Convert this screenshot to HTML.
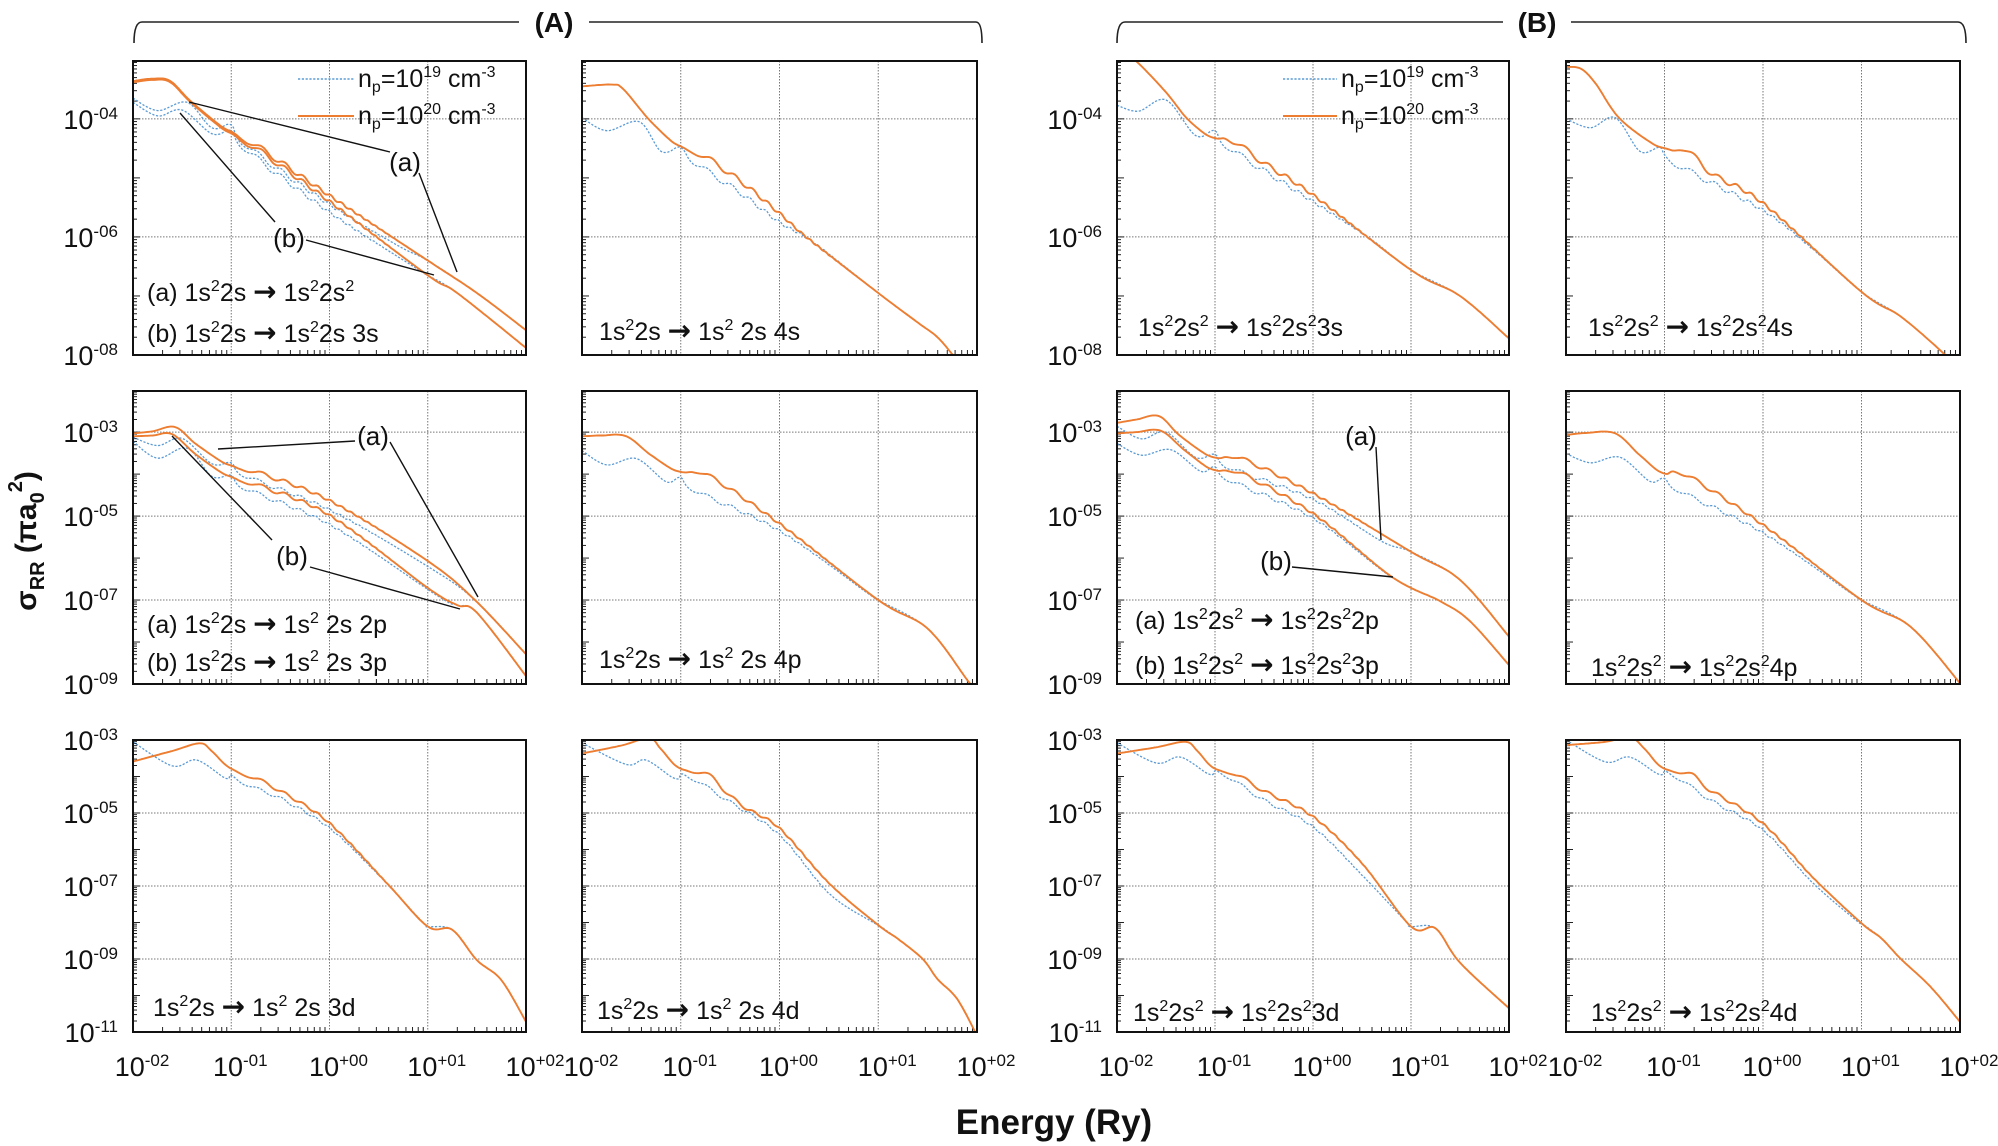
<!DOCTYPE html>
<html><head><meta charset="utf-8">
<style>
html,body{margin:0;padding:0;background:#fff;}
svg{display:block;font-family:"Liberation Sans",sans-serif;}
</style></head>
<body>
<svg id="s" width="1998" height="1146" viewBox="0 0 1998 1146" xmlns="http://www.w3.org/2000/svg">
<rect width="1998" height="1146" fill="#fff"/>
<path d="M134,43 Q134,22 142,22 L519,22 M589,22 L976,22 Q982,22 982,43" fill="none" stroke="#222" stroke-width="1.6"/>
<text x="554" y="32" font-size="28" font-weight="bold" text-anchor="middle" fill="#111">(A)</text>
<path d="M1117,43 Q1117,22 1125,22 L1503,22 M1571,22 L1958,22 Q1966,22 1966,43" fill="none" stroke="#222" stroke-width="1.6"/>
<text x="1537" y="32" font-size="28" font-weight="bold" text-anchor="middle" fill="#111">(B)</text>
<text x="1054" y="1134" font-size="35" font-weight="bold" text-anchor="middle" fill="#111">Energy (Ry)</text>
<text transform="translate(36,541) rotate(-90)" font-size="30" font-weight="bold" text-anchor="middle" fill="#111">σ<tspan dy="8" font-size="20">RR</tspan><tspan dy="-8"> (πa</tspan><tspan dy="8" font-size="20">0</tspan><tspan dy="-22" font-size="20">2</tspan><tspan dy="14">)</tspan></text>
<g id="g"></g>
</svg>
<script>
const G=document.getElementById('g');
let html='';
const cols=[[133,526],[582,977],[1117,1509],[1566,1960]];
const rows=[{T:61,B:355,mn:-8,mx:-3.02,labs:[-4,-6,-8],grid:[-4,-6]},
            {T:391,B:684,mn:-9,mx:-2.02,labs:[-3,-5,-7,-9],grid:[-3,-5,-7]},
            {T:740,B:1032,mn:-11,mx:-3,labs:[-3,-5,-7,-9,-11],grid:[-5,-7,-9]}];
function sup(s,base){
  let out='';let re=/(\^\{[^}]*\}|_\{[^}]*\}|→)/g;let parts=s.split(re);
  const fs=Math.round(base*0.62);const d=Math.round(base*0.38);
  parts.forEach(p=>{ if(!p)return;
    if(p=='→'){out+=`<tspan font-family="DejaVu Sans" font-weight="bold" font-size="${Math.round(base*1.1)}">→</tspan>`;}
    else if(p[0]=='^'){out+=`<tspan dy="-${d}" font-size="${fs}">${p.slice(2,-1)}</tspan><tspan dy="${d}">\u200B</tspan>`;}
    else if(p[0]=='_'){out+=`<tspan dy="${Math.round(d*0.6)}" font-size="${fs}">${p.slice(2,-1)}</tspan><tspan dy="-${Math.round(d*0.6)}">\u200B</tspan>`;}
    else out+=`<tspan>${p}</tspan>`;});
  return out;}
function txt(x,y,s,fs,anchor,extra){html+=`<text x="${x}" y="${y}" font-size="${fs}" fill="#111" ${anchor?`text-anchor="${anchor}"`:''} ${extra||''}>${sup(s,fs)}</text>`;}
function cr(pts){
  let out=[];
  for(let i=0;i<pts.length-1;i++){
    const p0=pts[Math.max(0,i-1)],p1=pts[i],p2=pts[i+1],p3=pts[Math.min(pts.length-1,i+2)];
    const n=Math.max(4,Math.ceil((p2[0]-p1[0])*60));
    for(let k=0;k<n;k++){const t=k/n,t2=t*t,t3=t2*t;
      const f=(a,b,c,d)=>0.5*((2*b)+(-a+c)*t+(2*a-5*b+4*c-d)*t2+(-a+3*b-3*c+d)*t3);
      out.push([f(p0[0],p1[0],p2[0],p3[0]),f(p0[1],p1[1],p2[1],p3[1])]);}
  }
  out.push(pts[pts.length-1]);return out;}
function wig(x,ph,amp){ if(x<-1.1||x>0.7)return 0;
  const env=Math.min(1,(0.7-x)/1.3)*Math.min(1,(x+1.1)/0.15);
  return amp*env*Math.sin(2*Math.PI*Math.sqrt(Math.pow(10,x))/0.14+ph);}
let clipId=0;
function panel(ci,ri,curves){
  const [L,R]=cols[ci];const r=rows[ri];const T=r.T,B=r.B;
  const X=lx=>L+(lx+2)/4*(R-L);const Y=ly=>T+(r.mx-ly)/(r.mx-r.mn)*(B-T);
  clipId++;
  html+=`<clipPath id="c${clipId}"><rect x="${L}" y="${T}" width="${R-L}" height="${B-T}"/></clipPath>`;
  for(let d=-1;d<=1;d++){const x=X(d);html+=`<line x1="${x}" y1="${T}" x2="${x}" y2="${B}" stroke="#777" stroke-width="1" stroke-dasharray="1.5,1.5"/>`;}
  r.grid.forEach(g=>{const y=Y(g);html+=`<line x1="${L}" y1="${y}" x2="${R}" y2="${y}" stroke="#777" stroke-width="1" stroke-dasharray="1.5,1.5"/>`;});
  for(let d=-2;d<2;d++)for(let k=2;k<=9;k++){const x=X(d+Math.log10(k));html+=`<line x1="${x}" y1="${B}" x2="${x}" y2="${B-5}" stroke="#222" stroke-width="1"/>`;}
  for(let d=r.mn;d<Math.ceil(r.mx);d++)for(let k=1;k<=9;k++){const v=d+Math.log10(k);if(v>r.mx)continue;const y=Y(v);html+=`<line x1="${L}" y1="${y}" x2="${L+(k==1?7:4)}" y2="${y}" stroke="#222" stroke-width="1"/>`;}
  curves.forEach(c=>{
    let pts=c.p.slice();
    if(c.follow){const last=pts[pts.length-1][0];c.follow.forEach(q=>{if(q[0]>last+0.01)pts.push(q);});}
    let s=cr(pts);
    let d='';s.forEach((q,i)=>{const ly=q[1]+wig(q[0],c.ph||0,c.amp==null?0.05:c.amp);d+=(i?'L':'M')+X(q[0]).toFixed(1)+','+Y(ly).toFixed(1);});
    if(c.blue) html+=`<path d="${d}" fill="none" stroke="#5B9BD5" stroke-width="1.3" stroke-dasharray="2.2,1.6" clip-path="url(#c${clipId})"/>`;
    else html+=`<path d="${d}" fill="none" stroke="#ED7D31" stroke-width="1.9" clip-path="url(#c${clipId})"/>`;
  });
  html+=`<rect x="${L}" y="${T}" width="${R-L}" height="${B-T}" fill="none" stroke="#111" stroke-width="2"/>`;
  if(ci==0||ci==2){r.labs.forEach(v=>{const y=Y(v);const s='10^{-'+String(-v).padStart(2,'0')+'}';txt(L-15,y+10,s,27,'end');});}
  if(ri==2){[-2,-1,0,1,2].forEach(v=>{const s='10^{'+(v<0?'-':'+')+String(Math.abs(v)).padStart(2,'0')+'}';txt(X(v)+9,1076,s,27,'middle');});}
}
let oa=[[-2,-3.36],[-1.8,-3.32],[-1.62,-3.36],[-1.4,-3.72],[-1,-4.25],[-0.75,-4.45],[0,-5.3],[1,-6.4],[1.5,-6.95],[2,-7.58]];
let ob=[[-2,-3.38],[-1.8,-3.34],[-1.62,-3.38],[-1.4,-3.74],[-1,-4.28],[-0.75,-4.5],[0,-5.4],[1,-6.65],[1.3,-6.95],[2,-7.88]];
panel(0,0,[
 {blue:1,p:[[-2,-3.65],[-1.75,-3.86],[-1.45,-3.72],[-1.2,-4.15],[-1,-4.12],[-0.85,-4.45],[0,-5.45],[0.7,-6.15]],follow:oa,ph:1},
 {blue:1,p:[[-2,-3.72],[-1.75,-3.95],[-1.5,-3.85],[-1.2,-4.25],[-1,-4.22],[-0.85,-4.52],[0,-5.58],[0.9,-6.55]],follow:ob,ph:1},
 {p:oa},{p:ob}]);
let o2=[[-2,-3.45],[-1.7,-3.42],[-1.58,-3.5],[-1.3,-4.05],[-1,-4.5],[-0.8,-4.6],[-0.4,-5.05],[0,-5.6],[0.27,-6.0],[1,-6.95],[1.4,-7.45],[1.6,-7.7],[1.78,-8.05],[2,-8.5]];
panel(1,0,[{blue:1,p:[[-2,-3.98],[-1.75,-4.2],[-1.42,-4.05],[-1.2,-4.55],[-1,-4.5],[-0.85,-4.75],[-0.4,-5.25],[0,-5.75],[0.35,-6.1]],follow:o2,ph:1},{p:o2}]);
let o3=[[-2,-2.8],[-1.8,-3.03],[-1.5,-3.55],[-1.27,-4.02],[-1,-4.36],[-0.85,-4.34],[-0.5,-4.75],[0,-5.29],[1,-6.56],[1.5,-7.0],[2,-7.72]];
panel(2,0,[{blue:1,p:[[-2,-3.77],[-1.78,-3.87],[-1.5,-3.68],[-1.2,-4.28],[-1,-4.22],[-0.85,-4.5],[0,-5.4],[0.6,-6.05]],follow:o3,ph:1},{p:o3}]);
let o4=[[-2,-3.12],[-1.85,-3.15],[-1.7,-3.4],[-1.44,-4.02],[-1,-4.53],[-0.8,-4.5],[-0.5,-4.95],[0,-5.43],[1,-6.93],[1.4,-7.35],[1.85,-8.0],[2,-8.3]];
panel(3,0,[{blue:1,p:[[-2,-4.0],[-1.75,-4.15],[-1.5,-3.98],[-1.25,-4.55],[-1.05,-4.5],[-0.9,-4.75],[0,-5.55],[0.5,-6.2]],follow:o4,ph:1},{p:o4}]);
let ra=[[-2,-3.03],[-1.8,-2.98],[-1.57,-2.88],[-1.35,-3.3],[-1,-3.83],[-0.75,-3.95],[0,-4.63],[1,-6.07],[1.48,-7.0],[2,-8.29]];
let rb=[[-2,-3.1],[-1.8,-3.08],[-1.6,-3.05],[-1.35,-3.55],[-1,-4.1],[-0.75,-4.25],[0,-4.98],[1,-6.71],[1.3,-7.12],[1.5,-7.3],[2,-8.81]];
panel(0,1,[
 {blue:1,p:[[-2,-3.12],[-1.75,-3.32],[-1.5,-3.15],[-1.2,-3.75],[-1,-3.75],[-0.85,-4.05],[0,-4.85],[1,-6.2]],follow:ra,ph:1},
 {blue:1,p:[[-2,-3.22],[-1.75,-3.62],[-1.45,-3.38],[-1.2,-4.05],[-1,-4.05],[-0.85,-4.35],[0,-5.2],[1.1,-6.9]],follow:rb,ph:1},
 {p:ra},{p:rb}]);
let r2=[[-2,-3.1],[-1.8,-3.08],[-1.55,-3.1],[-1.3,-3.55],[-1,-3.98],[-0.75,-4.0],[0,-5.18],[1,-7.0],[1.5,-7.68],[1.9,-8.9],[2,-9.2]];
panel(1,1,[{blue:1,p:[[-2,-3.44],[-1.75,-3.78],[-1.45,-3.63],[-1.15,-4.18],[-1,-4.1],[-0.85,-4.4],[0,-5.35],[0.9,-6.85]],follow:r2,ph:1},{p:r2}]);
let sa=[[-2,-2.78],[-1.8,-2.7],[-1.57,-2.62],[-1.35,-3.1],[-1,-3.64],[-0.77,-3.6],[0,-4.46],[1,-5.85],[1.5,-6.52],[2,-7.87]];
let sb=[[-2,-3.03],[-1.8,-3.0],[-1.55,-2.97],[-1.3,-3.45],[-1,-3.94],[-0.77,-3.95],[0,-4.94],[0.8,-6.44],[1.3,-7.03],[1.6,-7.5],[2,-8.55]];
panel(2,1,[
 {blue:1,p:[[-2,-2.86],[-1.75,-3.16],[-1.5,-3.0],[-1.2,-3.6],[-1,-3.55],[-0.85,-3.85],[0,-4.6],[0.7,-5.6]],follow:sa,ph:1},
 {blue:1,p:[[-2,-3.27],[-1.75,-3.55],[-1.45,-3.42],[-1.15,-3.93],[-1,-3.85],[-0.85,-4.15],[0,-5.05],[0.8,-6.45]],follow:sb,ph:1},
 {p:sa},{p:sb}]);
let s2=[[-2,-3.07],[-1.8,-3.02],[-1.5,-3.03],[-1.25,-3.55],[-1,-4.02],[-0.8,-4.0],[0,-5.21],[1,-7.0],[1.5,-7.64],[2,-8.98]];
panel(3,1,[{blue:1,p:[[-2,-3.51],[-1.75,-3.73],[-1.45,-3.6],[-1.15,-4.17],[-1,-4.12],[-0.85,-4.4],[0,-5.4],[0.9,-6.85]],follow:s2,ph:1},{p:s2}]);
let t1=[[-2,-3.59],[-1.6,-3.3],[-1.32,-3.09],[-1.2,-3.3],[-1,-3.82],[-0.8,-4.0],[-0.5,-4.4],[0,-5.28],[0.6,-6.97],[1,-8.11],[1.25,-8.2],[1.5,-9.03],[1.75,-9.58],[2,-10.72]];
panel(0,2,[{blue:1,p:[[-2,-3.05],[-1.6,-3.71],[-1.35,-3.55],[-1.05,-4.07],[-1,-3.98],[-0.8,-4.28],[-0.5,-4.6],[0,-5.41],[0.5,-6.7],[0.95,-8.0]],follow:t1,ph:1},{p:t1}]);
let t2=[[-2,-3.37],[-1.6,-3.15],[-1.32,-2.95],[-1.2,-3.25],[-1,-3.82],[-0.75,-3.9],[-0.55,-4.4],[-0.35,-4.85],[0,-5.42],[0.5,-6.92],[1,-8.07],[1.2,-8.45],[1.45,-9.0],[1.6,-9.55],[1.8,-10.1],[2,-11.1]];
panel(1,2,[{blue:1,p:[[-2,-3.08],[-1.55,-3.67],[-1.35,-3.55],[-1.05,-4.08],[-0.95,-3.96],[-0.5,-4.7],[0,-5.6],[0.5,-7.2],[0.95,-8.0]],follow:t2,ph:1},{p:t2}]);
let t3=[[-2,-3.37],[-1.6,-3.2],[-1.3,-3.05],[-1.18,-3.3],[-1,-3.82],[-0.8,-3.92],[-0.5,-4.4],[0,-5.1],[0.5,-6.38],[1,-8.11],[1.25,-8.16],[1.5,-9.1],[2,-10.35]];
panel(2,2,[{blue:1,p:[[-2,-3.08],[-1.6,-3.63],[-1.35,-3.47],[-1.05,-3.96],[-0.95,-3.88],[-0.5,-4.65],[0,-5.38],[0.5,-6.7],[0.95,-7.98]],follow:t3,ph:1},{p:t3}]);
let t4=[[-2,-3.14],[-1.6,-3.05],[-1.35,-2.92],[-1.2,-3.25],[-1,-3.82],[-0.75,-3.9],[-0.55,-4.35],[0,-5.29],[0.5,-6.75],[1,-8.02],[1.2,-8.43],[1.4,-9.0],[1.7,-9.76],[2,-10.72]];
panel(3,2,[{blue:1,p:[[-2,-3.0],[-1.6,-3.6],[-1.35,-3.47],[-1.05,-3.96],[-0.95,-3.9],[-0.5,-4.7],[0,-5.47],[0.5,-6.9],[0.95,-7.95]],follow:t4,ph:1},{p:t4}]);
function ln(a,b,c,d){html+=`<line x1="${a}" y1="${b}" x2="${c}" y2="${d}" stroke="#111" stroke-width="1.4"/>`;}
ln(189,102,390,152);ln(419,173,457,272);ln(180,113,275,222);ln(306,240,434,275);
txt(405,171,'(a)',26,'middle');txt(289,247,'(b)',26,'middle');
ln(218,449,355,441);ln(390,442,478,597);ln(172,436,272,540);ln(310,567,460,609);
txt(373,445,'(a)',26,'middle');txt(292,565,'(b)',26,'middle');
ln(1376,447,1381,540);ln(1292,567,1393,577);
txt(1361,445,'(a)',26,'middle');txt(1276,570,'(b)',26,'middle');
function legend(x0,x1){
 html+=`<line x1="${x0}" y1="79" x2="${x1}" y2="79" stroke="#5B9BD5" stroke-width="1.4" stroke-dasharray="2.2,1.6"/>`;
 html+=`<line x1="${x0}" y1="116" x2="${x1}" y2="116" stroke="#ED7D31" stroke-width="2"/>`;
 html+=`<text x="${x1+4}" y="87" font-size="25" fill="#111">n<tspan dy="5" font-size="16">p</tspan><tspan dy="-5">=10</tspan><tspan dy="-10" font-size="16">19</tspan><tspan dy="10"> cm</tspan><tspan dy="-10" font-size="16">-3</tspan></text>`;
 html+=`<text x="${x1+4}" y="124" font-size="25" fill="#111">n<tspan dy="5" font-size="16">p</tspan><tspan dy="-5">=10</tspan><tspan dy="-10" font-size="16">20</tspan><tspan dy="10"> cm</tspan><tspan dy="-10" font-size="16">-3</tspan></text>`;}
legend(298,354);legend(1283,1337);
const A='→';const F=25;
txt(147,301,'(a) 1s^{2}2s '+A+' 1s^{2}2s^{2}',F);
txt(147,342,'(b) 1s^{2}2s '+A+' 1s^{2}2s 3s',F);
txt(599,340,'1s^{2}2s '+A+' 1s^{2} 2s 4s',F);
txt(1138,336,'1s^{2}2s^{2} '+A+' 1s^{2}2s^{2}3s',F);
txt(1588,336,'1s^{2}2s^{2} '+A+' 1s^{2}2s^{2}4s',F);
txt(147,633,'(a) 1s^{2}2s '+A+' 1s^{2} 2s 2p',F);
txt(147,671,'(b) 1s^{2}2s '+A+' 1s^{2} 2s 3p',F);
txt(599,668,'1s^{2}2s '+A+' 1s^{2} 2s 4p',F);
txt(1135,629,'(a) 1s^{2}2s^{2} '+A+' 1s^{2}2s^{2}2p',F);
txt(1135,674,'(b) 1s^{2}2s^{2} '+A+' 1s^{2}2s^{2}3p',F);
txt(1591,676,'1s^{2}2s^{2} '+A+' 1s^{2}2s^{2}4p',F);
txt(153,1016,'1s^{2}2s '+A+' 1s^{2} 2s 3d',F);
txt(597,1019,'1s^{2}2s '+A+' 1s^{2} 2s 4d',F);
txt(1133,1021,'1s^{2}2s^{2} '+A+' 1s^{2}2s^{2}3d',F);
txt(1591,1021,'1s^{2}2s^{2} '+A+' 1s^{2}2s^{2}4d',F);
G.innerHTML=html;
</script>
</body></html>
